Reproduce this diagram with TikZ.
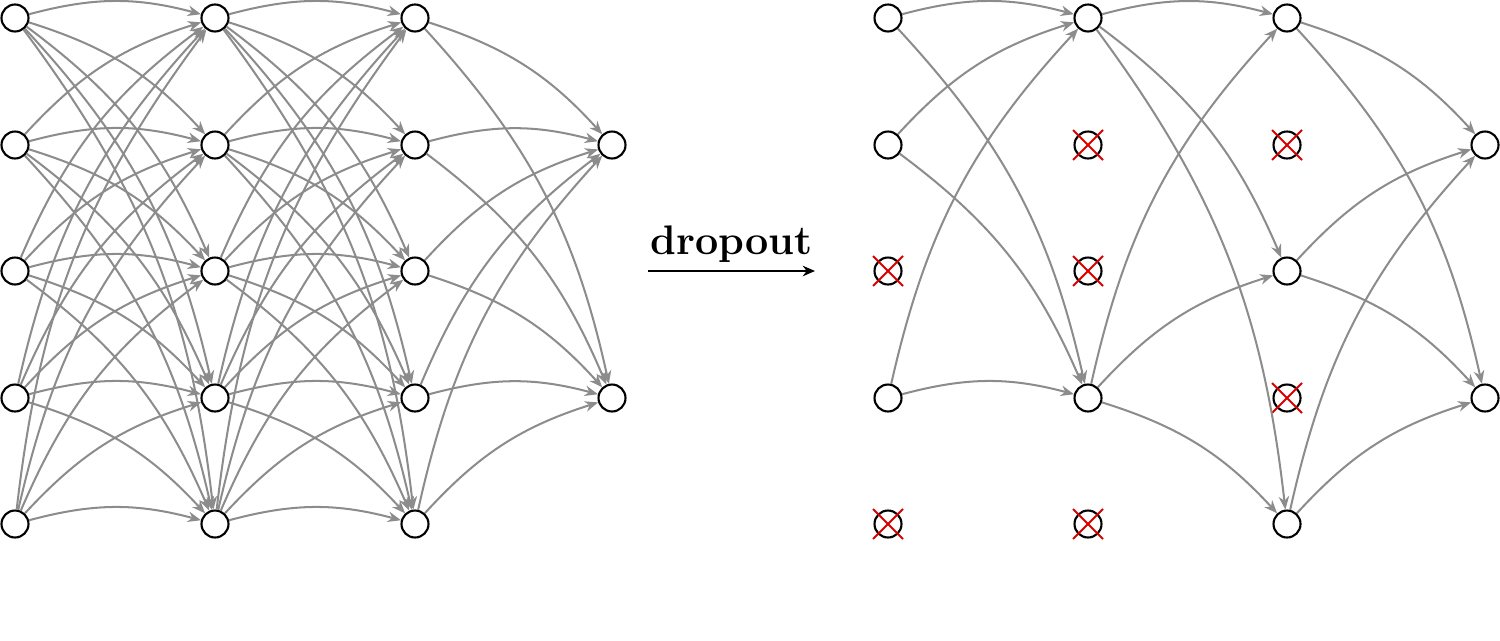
\documentclass[tikz,border=0pt]{standalone}
\usepackage{tikz}
\usetikzlibrary{arrows.meta}

\begin{document}
\begin{tikzpicture}[x=0.02cm,y=-0.02cm,
                    neuron/.style={circle,draw=black,line width=1.2pt,fill=white,
                                   minimum size=0.54cm,inner sep=0pt},
                    conn/.style={draw=gray!90,line width=1.15pt,bend left=15,
                                 -{Stealth[length=7.5pt,width=6pt]}},
                    cross/.style={draw=red!85!black,line width=1.1pt}]
\useasboundingbox (0,0) rectangle (1500,640);

% full network
\foreach \r/\y in {1/18,2/145,3/271,4/398,5/524}
  \foreach \c/\x in {1/15,2/215,3/415}
    \node[neuron] (a\c\r) at (\x,\y) {};
\node[neuron] (a41) at (612,145) {};
\node[neuron] (a42) at (612,398) {};

\foreach \i in {1,...,5}
  \foreach \j in {1,...,5}
    {\draw[conn] (a1\i) to (a2\j);
     \draw[conn] (a2\i) to (a3\j);}
\foreach \i in {1,...,5}
  \foreach \j in {1,2}
    \draw[conn] (a3\i) to (a4\j);

% dropout arrow
\coordinate (dstart) at (648,271);
\coordinate (dend) at (815,271);
\draw[line width=1.1pt,-{Stealth[length=7pt,width=6pt]}] (dstart) -- (dend)
  node[midway,above=1pt] {\fontsize{23.5}{27}\selectfont\bfseries dropout};

% thinned network
\foreach \r/\y in {1/18,2/145,3/271,4/398,5/524}
  \foreach \c/\x in {1/888,2/1088,3/1287}
    \node[neuron] (b\c\r) at (\x,\y) {};
\node[neuron] (b41) at (1485,145) {};
\node[neuron] (b42) at (1485,398) {};

\foreach \n in {b13,b15,b22,b23,b25,b32,b34}
  {\draw[cross] (\n.center) +(-15,-15) -- +(15,15);
   \draw[cross] (\n.center) +(-15,15) -- +(15,-15);}

\foreach \i in {1,2,4}
  \foreach \j in {1,4}
    \draw[conn] (b1\i) to (b2\j);
\foreach \i in {1,4}
  \foreach \j in {1,3,5}
    \draw[conn] (b2\i) to (b3\j);
\foreach \i in {1,3,5}
  \foreach \j in {1,2}
    \draw[conn] (b3\i) to (b4\j);
\end{tikzpicture}
\end{document}
